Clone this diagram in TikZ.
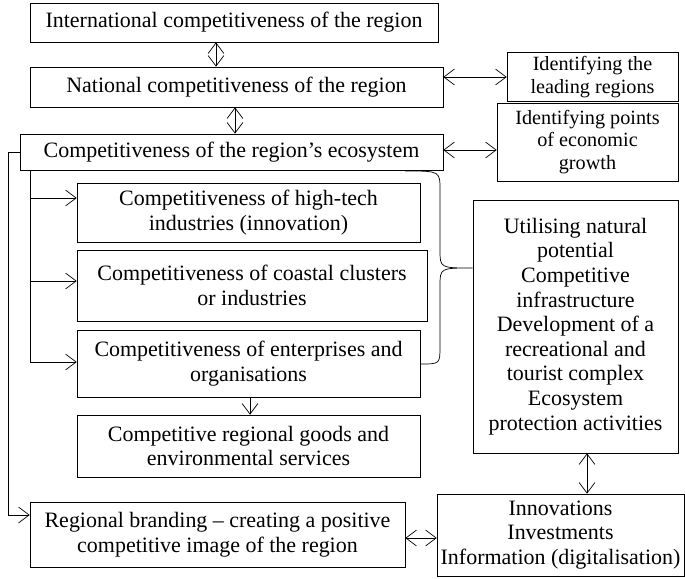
\documentclass[tikz,border=0pt]{standalone}
\usepackage{fontspec}
\setmainfont{Liberation Serif}
\usetikzlibrary{arrows.meta,positioning,decorations.pathreplacing}

\begin{document}
\begin{tikzpicture}[x=0.02cm,y=-0.02cm,
  box/.style={draw,align=center,inner sep=2pt,font=\fontsize{12.5}{14}\selectfont},
  arr/.style={-{Straight Barb[length=6pt,width=9pt]}},
  darr/.style={{Straight Barb[length=6pt,width=9pt]}-{Straight Barb[length=6pt,width=9pt]}}]
\useasboundingbox (0,0) rectangle (685,578);

% Top level
\node[box,minimum width=8.16cm,minimum height=0.78cm] (intl) at (234,22.5) {International competitiveness of the region};
\node[box,minimum width=8.26cm,minimum height=0.8cm] (natl) at (236.5,87) {National competitiveness of the region};
\node[box,minimum width=3.42cm,minimum height=0.8cm,font=\fontsize{11.5}{13}\selectfont] (lead) at (592.5,77) {Identifying the\\leading regions};
\node[box,minimum width=8.46cm,minimum height=0.72cm] (eco) at (231.5,152) {Competitiveness of the region's ecosystem};
\node[box,minimum width=3.62cm,minimum height=1.56cm,font=\fontsize{11.5}{13}\selectfont] (growth) at (587.5,142) {Identifying points\\of economic\\growth};

% Levels of the ecosystem
\node[box,minimum width=6.86cm,minimum height=1.18cm] (tech) at (248.5,212.5) {Competitiveness of high-tech\\industries (innovation)};
\node[box,minimum width=7.0cm,minimum height=1.42cm] (coast) at (252,285.5) {Competitiveness of coastal clusters\\or industries};
\node[box,minimum width=6.86cm,minimum height=1.34cm] (ent) at (248.5,363.5) {Competitiveness of enterprises and\\organisations};
\node[box,minimum width=6.86cm,minimum height=1.24cm] (goods) at (248.5,446) {Competitive regional goods and\\environmental services};
\node[box,minimum width=4.1cm,minimum height=5.06cm] (pot) at (575.5,326.5) {Utilising natural\\potential\\Competitive\\infrastructure\\Development of a\\recreational and\\tourist complex\\Ecosystem\\protection activities};

% Bottom level
\node[box,minimum width=7.5cm,minimum height=1.3cm] (brand) at (217.5,534.5) {Regional branding -- creating a positive\\competitive image of the region};
\node[box,minimum width=4.7cm,minimum height=1.64cm] (inv) at (560.5,535) {Innovations\\Investments\\Information (digitalisation)};

% Connections
\draw[darr] (intl.south -| 216,0) -- (natl.north -| 216,0);
\draw[darr] (natl.south -| 235,0) -- (eco.north -| 235,0);
\draw[darr] (natl.east |- 0,77) -- (lead.west |- 0,77);
\draw[darr] (eco.east |- 0,150) -- (growth.west |- 0,150);
\coordinate (spine) at (30,170);
\draw (spine) -- (30,362);
\draw[arr] (30,198) -- (tech.west |- 0,198);
\draw[arr] (30,281) -- (coast.west |- 0,281);
\draw[arr] (30,362) -- (ent.west |- 0,362);
\draw[arr] (eco.west) -- (8,152) -- (8,515) -- (brand.west |- 0,515);
\draw[arr] (ent.south -| 250,0) -- (goods.north -| 250,0);
% brace towards the resources box
\draw (405,171) .. controls (440,171) .. (440,190) -- (440,250)
  .. controls (440,268) .. (pot.west |- 0,268)
  (440,286) .. controls (440,268) .. (pot.west |- 0,268)
  (440,286) -- (440,346) .. controls (440,364) .. (420,364);
\draw[darr] (pot.south -| 587,0) -- (inv.north -| 587,0);
\draw[darr] (brand.east |- 0,538) -- (inv.west |- 0,538);
\end{tikzpicture}
\end{document}
